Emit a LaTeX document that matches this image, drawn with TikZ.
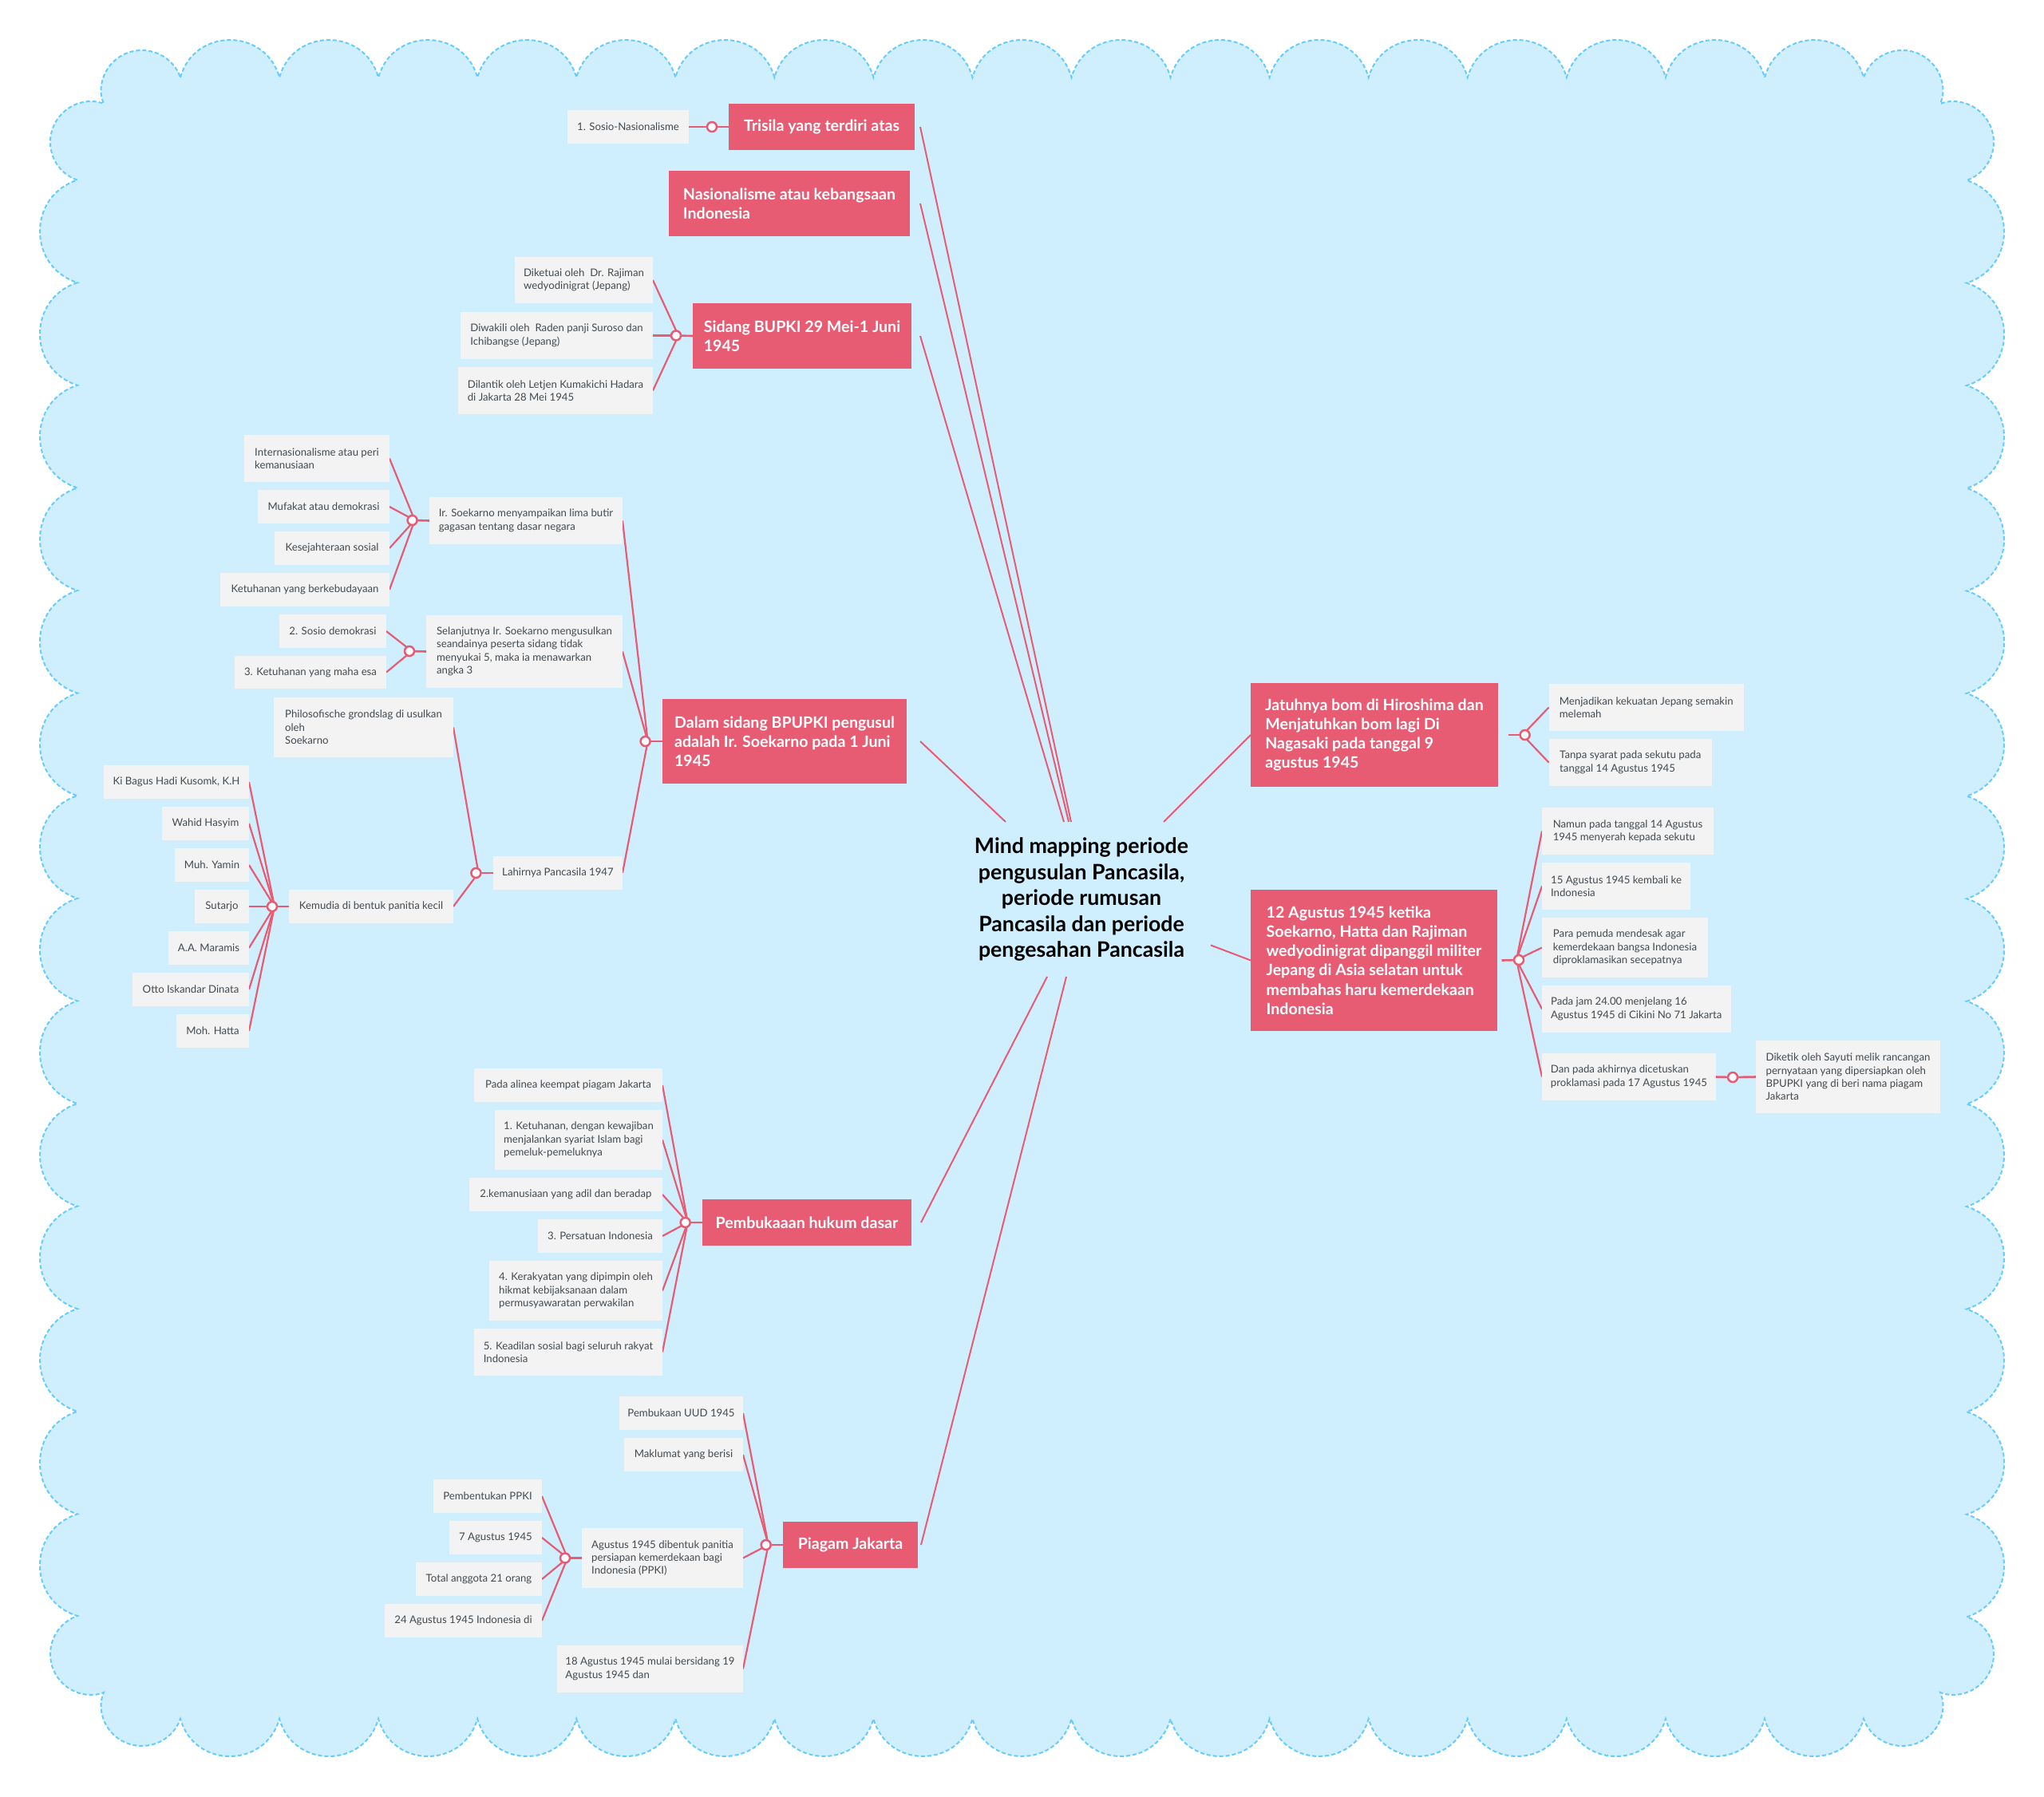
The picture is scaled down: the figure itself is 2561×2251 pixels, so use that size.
\documentclass[tikz,border=0pt]{standalone}
\usepackage{fontspec}
\setmainfont{Lato}
\usetikzlibrary{calc}
\definecolor{cloudfill}{HTML}{CFEFFF}
\definecolor{cloudline}{HTML}{66CCFF}
\definecolor{rosa}{HTML}{E85C73}
\definecolor{leafgrey}{HTML}{F3F3F3}
\definecolor{leafink}{HTML}{434A50}
\pgfdeclarelayer{cloudlayer}
\pgfdeclarelayer{linelayer}
\pgfsetlayers{cloudlayer,linelayer,main}
\tikzset{
  leaf/.style={fill=leafgrey,text=leafink,inner sep=0pt,outer sep=0pt,align=left,font=\fontsize{13.2}{16.4}\selectfont},
  topic/.style={fill=rosa,text=white,inner sep=0pt,outer sep=0pt,align=left,font=\fontsize{19.6}{24.2}\selectfont\bfseries},
  rootnode/.style={text=black,inner sep=0pt,outer sep=0pt,align=center,font=\fontsize{26.7}{32.5}\selectfont\bfseries},
  hub/.style={circle,draw=rosa,fill=white,line width=2.5pt,minimum size=12pt,inner sep=0pt},
  lf/.style={draw=rosa,line width=2.2pt},
  stub/.style={draw=rosa,line width=2.6pt},
  mainline/.style={draw=rosa,line width=2pt},
}
% box from corners: name, x1, y1, x2, y2, style, text
\newcommand{\bx}[7]{%
  \pgfmathsetmacro{\bw}{#4-#2}\pgfmathsetmacro{\bh}{#5-#3}%
  \pgfmathsetmacro{\bcx}{(#4+#2)/2}\pgfmathsetmacro{\bcy}{(#5+#3)/2}%
  \node[#6,minimum width=\bw pt,minimum height=\bh pt] (#1) at (\bcx,\bcy) {#7};}
\begin{document}
\begin{tikzpicture}[x=1pt,y=-1pt]
\useasboundingbox (0,0) rectangle (2561,2251);

% cloud
\begin{pgfonlayer}{cloudlayer}
\path[fill=cloudfill,draw=cloudline,line width=2pt,dash pattern=on 5pt off 3pt]
  (226,97)
  \foreach \i in {0,...,16} { .. controls ({226+124.06*\i+17.6},34.4) and ({226+124.06*(\i+1)-17.6},34.4) .. ({226+124.06*(\i+1)},97) }
  .. controls (2342.2,76.5) and (2361.8,63) .. (2383.5,63)
  .. controls (2411.7,63) and (2434.5,86) .. (2434.5,114)
  .. controls (2434.5,120) and (2433,125) .. (2431,130)
  .. controls (2436,128) and (2441,127) .. (2447,127)
  .. controls (2475,127) and (2498,150) .. (2498,178)
  .. controls (2498,199.7) and (2484.5,218.8) .. (2464,226)
  \foreach \i in {0,...,13} { .. controls (2526.7,{226+128.6*\i+20}) and (2526.7,{226+128.6*(\i+1)-20}) .. (2464,{226+128.6*(\i+1)}) }
  .. controls (2484.5,2032.2) and (2498,2051.3) .. (2498,2073)
  .. controls (2498,2101) and (2475,2124) .. (2447,2124)
  .. controls (2441,2124) and (2436,2123) .. (2431,2121)
  .. controls (2433,2126) and (2434.5,2131) .. (2434.5,2137)
  .. controls (2434.5,2165) and (2411.7,2188) .. (2383.5,2188)
  .. controls (2361.8,2188) and (2342.2,2174.5) .. (2335,2154)
  \foreach \i in {0,...,16} { .. controls ({2335-124.06*\i-17.6},2216.6) and ({2335-124.06*(\i+1)+17.6},2216.6) .. ({2335-124.06*(\i+1)},2154) }
  .. controls (218.8,2174.5) and (199.2,2188) .. (177.5,2188)
  .. controls (149.3,2188) and (126.5,2165) .. (126.5,2137)
  .. controls (126.5,2131) and (128,2126) .. (130,2121)
  .. controls (125,2123) and (120,2124) .. (114,2124)
  .. controls (86,2124) and (63,2101) .. (63,2073)
  .. controls (63,2051.3) and (76.5,2032.2) .. (97,2025)
  \foreach \i in {0,...,13} { .. controls (34.3,{2026-128.6*\i-20}) and (34.3,{2026-128.6*(\i+1)+20}) .. (97,{2026-128.6*(\i+1)}) }
  .. controls (76.5,218.8) and (63,199.7) .. (63,178)
  .. controls (63,150) and (86,127) .. (114,127)
  .. controls (120,127) and (125,128) .. (130,130)
  .. controls (128,125) and (126.5,120) .. (126.5,114)
  .. controls (126.5,86) and (149.3,63) .. (177.5,63)
  .. controls (199.2,63) and (218.8,76.5) .. (226,97)
  -- cycle;
\end{pgfonlayer}

% root
\bx{root}{1193}{1030}{1517}{1224}{rootnode}{Mind mapping periode\\pengusulan Pancasila,\\periode rumusan\\Pancasila dan periode\\pengesahan Pancasila}

% main topics
\bx{trisila}{913}{130}{1146}{188}{topic}{Trisila yang terdiri atas}
\bx{nasional}{838}{214}{1140}{296}{topic}{Nasionalisme atau kebangsaan\\Indonesia}
\bx{sidang}{868}{380}{1142}{462}{topic}{Sidang BUPKI 29 Mei-1 Juni\\1945}
\bx{dalam}{830}{876}{1136}{982}{topic}{Dalam sidang BPUPKI pengusul\\adalah Ir. Soekarno pada 1 Juni\\1945}
\bx{pembukaan}{880}{1503}{1142}{1561}{topic}{Pembukaaan hukum dasar}
\bx{piagam}{981}{1907}{1150}{1965}{topic}{Piagam Jakarta}
\bx{jatuh}{1567}{856}{1877}{986}{topic}{Jatuhnya bom di Hiroshima dan\\Menjatuhkan bom lagi Di\\Nagasaki pada tanggal 9\\agustus 1945}
\bx{dua}{1567}{1115}{1876}{1292}{topic}{12 Agustus 1945 ketika\\Soekarno, Hatta dan Rajiman\\wedyodinigrat dipanggil militer\\Jepang di Asia selatan untuk\\membahas haru kemerdekaan\\Indonesia}

% leaves
\bx{sosio}{711}{138}{863}{180}{leaf}{1. Sosio-Nasionalisme}
\bx{diketuai}{645}{322}{818}{380}{leaf}{Diketuai oleh\ \ Dr. Rajiman\\wedyodinigrat (Jepang)}
\bx{diwakili}{577}{391}{818}{450}{leaf}{Diwakili oleh\ \ Raden panji Suroso dan\\Ichibangse (Jepang)}
\bx{dilantik}{574}{460}{818}{519}{leaf}{Dilantik oleh Letjen Kumakichi Hadara\\di Jakarta 28 Mei 1945}
\bx{inter}{306}{545}{488}{604}{leaf}{Internasionalisme atau peri\\kemanusiaan}
\bx{mufakat}{323}{614}{488}{656}{leaf}{Mufakat atau demokrasi}
\bx{kesej}{344}{666}{488}{708}{leaf}{Kesejahteraan sosial}
\bx{ketuhan}{276}{718}{488}{760}{leaf}{Ketuhanan yang berkebudayaan}
\bx{irsoek}{538}{623}{780}{682}{leaf}{Ir. Soekarno menyampaikan lima butir\\gagasan tentang dasar negara}
\bx{sosiod}{350}{770}{484}{812}{leaf}{2. Sosio demokrasi}
\bx{ketiga}{294}{822}{484}{863}{leaf}{3. Ketuhanan yang maha esa}
\bx{selanjut}{534}{771}{780}{862}{leaf}{Selanjutnya Ir. Soekarno mengusulkan\\seandainya peserta sidang tidak\\menyukai 5, maka ia menawarkan\\angka 3}
\bx{philo}{343}{874}{568}{949}{leaf}{Philosofische grondslag di usulkan\\oleh\\Soekarno}
\bx{kibagus}{130}{959}{312}{1001}{leaf}{Ki Bagus Hadi Kusomk, K.H}
\bx{wahid}{203}{1011}{312}{1053}{leaf}{Wahid Hasyim}
\bx{yamin}{219}{1063}{312}{1105}{leaf}{Muh. Yamin}
\bx{sutarjo}{244}{1115}{312}{1157}{leaf}{Sutarjo}
\bx{maramis}{211}{1167}{312}{1209}{leaf}{A.A. Maramis}
\bx{otto}{166}{1219}{312}{1261}{leaf}{Otto Iskandar Dinata}
\bx{hatta}{221}{1271}{312}{1313}{leaf}{Moh. Hatta}
\bx{kemudia}{362}{1115}{568}{1157}{leaf}{Kemudia di bentuk panitia kecil}
\bx{lahir}{618}{1073}{780}{1115}{leaf}{Lahirnya Pancasila 1947}
\bx{alinea}{594}{1339}{830}{1381}{leaf}{Pada alinea keempat piagam Jakarta}
\bx{satu}{620}{1391}{830}{1466}{leaf}{1. Ketuhanan, dengan kewajiban\\menjalankan syariat Islam bagi\\pemeluk-pemeluknya}
\bx{kemanus}{588}{1476}{830}{1518}{leaf}{2.kemanusiaan yang adil dan beradap}
\bx{persatuan}{674}{1528}{830}{1570}{leaf}{3. Persatuan Indonesia}
\bx{kerakyatan}{613}{1580}{830}{1655}{leaf}{4. Kerakyatan yang dipimpin oleh\\hikmat kebijaksanaan dalam\\permusyawaratan perwakilan}
\bx{keadilan}{594}{1665}{830}{1724}{leaf}{5. Keadilan sosial bagi seluruh rakyat\\Indonesia}
\bx{uud}{776}{1750}{931}{1792}{leaf}{Pembukaan UUD 1945}
\bx{maklumat}{782}{1802}{931}{1844}{leaf}{Maklumat yang berisi}
\bx{pembentuk}{543}{1854}{679}{1896}{leaf}{Pembentukan PPKI}
\bx{tujuh}{563}{1906}{679}{1948}{leaf}{7 Agustus 1945}
\bx{total}{521}{1958}{679}{2000}{leaf}{Total anggota 21 orang}
\bx{duaempat}{482}{2010}{679}{2052}{leaf}{24 Agustus 1945 Indonesia di}
\bx{agustus}{729}{1915}{931}{1990}{leaf}{Agustus 1945 dibentuk panitia\\persiapan kemerdekaan bagi\\Indonesia (PPKI)}
\bx{sidang18}{698}{2062}{931}{2121}{leaf}{18 Agustus 1945 mulai bersidang 19\\Agustus 1945 dan}
\bx{menjadi}{1940.5}{857}{2185}{916}{leaf}{Menjadikan kekuatan Jepang semakin\\melemah}
\bx{tanpa}{1940.5}{926}{2145}{985}{leaf}{Tanpa syarat pada sekutu pada\\tanggal 14 Agustus 1945}
\bx{namun}{1932}{1012}{2147}{1071}{leaf}{Namun pada tanggal 14 Agustus\\1945 menyerah kepada sekutu}
\bx{limabelas}{1932}{1081}{2118}{1140}{leaf}{15 Agustus 1945 kembali ke\\Indonesia}
\bx{pemuda}{1932}{1150}{2140}{1225}{leaf}{Para pemuda mendesak agar\\kemerdekaan bangsa Indonesia\\diproklamasikan secepatnya}
\bx{jam}{1932}{1235}{2168.5}{1294}{leaf}{Pada jam 24.00 menjelang 16\\Agustus 1945 di Cikini No 71 Jakarta}
\bx{akhir}{1932}{1320}{2150}{1379}{leaf}{Dan pada akhirnya dicetuskan\\proklamasi pada 17 Agustus 1945}
\bx{diketik}{2200}{1304}{2431}{1395}{leaf}{Diketik oleh Sayuti melik rancangan\\pernyataan yang dipersiapkan oleh\\BPUPKI yang di beri nama piagam\\Jakarta}

% hubs
\node[hub] (ha) at (892,159) {};
\node[hub] (hb) at (847,420.5) {};
\node[hub] (hc) at (516.6,652) {};
\node[hub] (hd) at (513,816) {};
\node[hub] (he) at (808.6,929) {};
\node[hub] (hf) at (596.4,1094) {};
\node[hub] (hg) at (341,1136) {};
\node[hub] (hh) at (858.7,1532) {};
\node[hub] (hi) at (959.7,1936) {};
\node[hub] (hj) at (708,1952.5) {};
\node[hub] (hk) at (1910.6,921) {};
\node[hub] (hl) at (1903,1203) {};
\node[hub] (hm) at (2171,1350) {};

\begin{pgfonlayer}{linelayer}
% root connectors
\draw[mainline] ([xshift=7pt]trisila.east) -- ($(root.north)+(-13,0)$);
\draw[mainline] ([xshift=13pt]nasional.east) -- ($(root.north)+(-16,0)$);
\draw[mainline] ([xshift=11pt]sidang.east) -- ($(root.north)+(-22,0)$);
\draw[mainline] ([xshift=17pt]dalam.east) -- ($(root.north)+(-95,0)$);
\draw[mainline] ([xshift=12pt]pembukaan.east) -- ($(root.south)+(-43,0)$);
\draw[mainline] ([xshift=4pt]piagam.east) -- ($(root.south)+(-19,0)$);
\draw[mainline] (jatuh.west) -- ($(root.north)+(103,0)$);
\draw[mainline] (dua.west) -- ($(root.east)+(0,57.5)$);
% hub a
\draw[stub] (sosio.east) -- (ha.center) -- (trisila.west);
% hub b
\foreach \n in {diketuai,diwakili,dilantik} \draw[lf] (\n.east) -- ([xshift=3pt]hb.center);
\draw[stub] (hb.center) -- (sidang.west);
% hub c
\foreach \n in {inter,mufakat,kesej,ketuhan} \draw[lf] (\n.east) -- ([xshift=3pt]hc.center);
\draw[stub] (hc.center) -- (irsoek.west);
% hub d
\foreach \n in {sosiod,ketiga} \draw[lf] (\n.east) -- ([xshift=3pt]hd.center);
\draw[stub] (hd.center) -- (selanjut.west);
% hub e
\foreach \n in {irsoek,selanjut,lahir} \draw[lf] (\n.east) -- ([xshift=3pt]he.center);
\draw[stub] (he.center) -- (dalam.west);
% hub f
\foreach \n in {philo,kemudia} \draw[lf] (\n.east) -- ([xshift=3pt]hf.center);
\draw[stub] (hf.center) -- (lahir.west);
% hub g
\foreach \n in {kibagus,wahid,yamin,sutarjo,maramis,otto,hatta} \draw[lf] (\n.east) -- ([xshift=3pt]hg.center);
\draw[stub] (hg.center) -- (kemudia.west);
% hub h
\foreach \n in {alinea,satu,kemanus,persatuan,kerakyatan,keadilan} \draw[lf] (\n.east) -- ([xshift=3pt]hh.center);
\draw[stub] (hh.center) -- (pembukaan.west);
% hub i
\foreach \n in {uud,maklumat,agustus,sidang18} \draw[lf] (\n.east) -- ([xshift=3pt]hi.center);
\draw[stub] (hi.center) -- (piagam.west);
% hub j
\foreach \n in {pembentuk,tujuh,total,duaempat} \draw[lf] (\n.east) -- ([xshift=3pt]hj.center);
\draw[stub] (hj.center) -- (agustus.west);
% hub k
\foreach \n in {menjadi,tanpa} \draw[lf] (\n.west) -- ([xshift=-3pt]hk.center);
\draw[stub] ([xshift=13pt]jatuh.east) -- (hk.center);
% hub l
\foreach \n in {namun,limabelas,pemuda,jam,akhir} \draw[lf] (\n.west) -- ([xshift=-3pt]hl.center);
\draw[stub] ([xshift=5.5pt]dua.east) -- (hl.center);
% hub m
\draw[stub] (akhir.east) -- (hm.center) -- (diketik.west);
\end{pgfonlayer}
\end{tikzpicture}
\end{document}
